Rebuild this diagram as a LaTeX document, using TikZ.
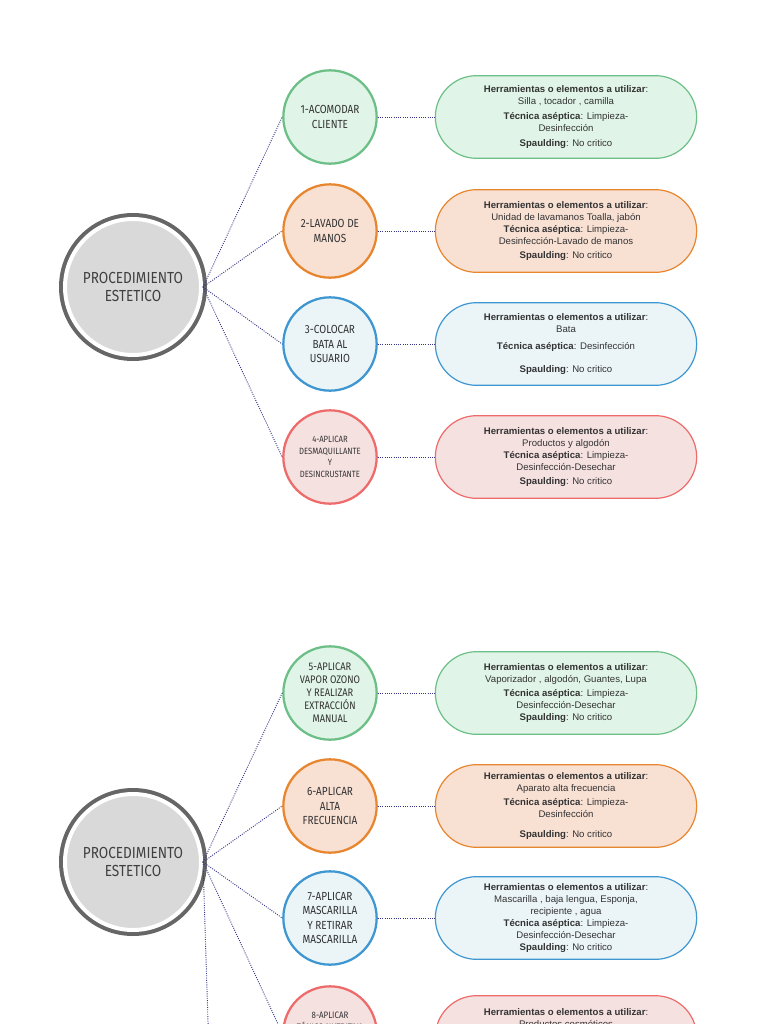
\documentclass[tikz,border=0pt]{standalone}
\usepackage{fontspec}
\setmainfont{Liberation Sans}
\newfontfamily\circf{Fira Sans}[FakeStretch=0.85]
\begin{document}
\begin{tikzpicture}[x=0.75pt,y=-0.75pt,
  big/.style={circle,inner sep=0,fill=gray!30,draw=white,line width=3pt,font=\circf\fontsize{12}{14}\selectfont,text=black!75,align=center},
  sm/.style={circle,minimum size=70pt,inner sep=0,line width=1.7pt,font=\circf\fontsize{8.8}{10.6}\selectfont,text=black!80,align=center},
  bx/.style={rounded corners=31pt,minimum width=196pt,minimum height=62pt,line width=0.9pt,font=\fontsize{7.2}{9}\selectfont,text=black!80,align=center,inner sep=1pt},
  g/.style={draw=gcol,fill=gfil},o/.style={draw=ocol,fill=ofil},b/.style={draw=bcol,fill=bfil},r/.style={draw=rcol,fill=rfil},
  con/.style={densely dotted,draw=black!45!blue!60!gray,line width=0.7pt}]
\definecolor{gcol}{HTML}{6DBF88}\definecolor{gfil}{HTML}{E0F5E7}
\definecolor{ocol}{HTML}{E8862F}\definecolor{ofil}{HTML}{F8E0D3}
\definecolor{bcol}{HTML}{3E97D1}\definecolor{bfil}{HTML}{EBF5F8}
\definecolor{rcol}{HTML}{EE6B6B}\definecolor{rfil}{HTML}{F6E1E1}
\useasboundingbox (0,0) rectangle (768,1024);
\clip (0,0) rectangle (768,1024);
\fill[white] (0,0) rectangle (768,1024);
\newcommand\hbx{\textbf{Herramientas o elementos a utilizar}:}
\newcommand\tax{\textbf{Técnica aséptica}:}
\newcommand\spx{\textbf{Spaulding}: No critico}
\foreach \cy/\n in {287/A,862/B}{
  \fill[black!60] (133,\cy) circle (55.5pt);
  \node[big,minimum size=102pt] (\n) at (133,\cy) {PROCEDIMIENTO\\ESTETICO};
}
% top group
\node[sm,g] (c1) at (330,117) {1-ACOMODAR\\CLIENTE};
\node[sm,o] (c2) at (330,231) {2-LAVADO DE\\MANOS};
\node[sm,b] (c3) at (330,344) {3-COLOCAR\\BATA AL\\USUARIO};
\node[sm,r,font=\circf\fontsize{6.8}{8.6}\selectfont] (c4) at (330,457) {4-APLICAR\\DESMAQUILLANTE\\Y\\DESINCRUSTANTE};
\node[bx,g] (b1) at (566,117) {\hbx\\Silla , tocador , camilla\\[2pt]\tax{} Limpieza-\\Desinfección\\[2pt]\spx};
\node[bx,o] (b2) at (566,231) {\hbx\\Unidad de lavamanos Toalla, jabón\\\tax{} Limpieza-\\Desinfección-Lavado de manos\\[2pt]\spx};
\node[bx,b] (b3) at (566,344) {\hbx\\Bata\\[4pt]\tax{} Desinfección\\[8pt]\spx};
\node[bx,r] (b4) at (566,457) {\hbx\\Productos y algodón\\\tax{} Limpieza-\\Desinfección-Desechar\\[1pt]\spx};
% bottom group
\node[sm,g,font=\circf\fontsize{8.2}{9.8}\selectfont] (c5) at (330,693) {5-APLICAR\\VAPOR OZONO\\Y REALIZAR\\EXTRACCIÓN\\MANUAL};
\node[sm,o] (c6) at (330,806) {6-APLICAR\\ALTA\\FRECUENCIA};
\node[sm,b] (c7) at (330,918) {7-APLICAR\\MASCARILLA\\Y RETIRAR\\MASCARILLA};
\node[sm,r,font=\circf\fontsize{7}{9}\selectfont] (c8) at (330,1033) {8-APLICAR\\TÓNICO NUTRITIVA\\Y\\PROTECTOR};
\node[bx,g] (b5) at (566,693) {\hbx\\Vaporizador , algodón, Guantes, Lupa\\[2pt]\tax{} Limpieza-\\Desinfección-Desechar\\\spx};
\node[bx,o] (b6) at (566,806) {\hbx\\Aparato alta frecuencia\\[2pt]\tax{} Limpieza-\\Desinfección\\[6pt]\spx};
\node[bx,b] (b7) at (566,918) {\hbx\\Mascarilla , baja lengua, Esponja,\\recipiente , agua\\\tax{} Limpieza-\\Desinfección-Desechar\\\spx};
\node[bx,r] (b8) at (566,1037) {\hbx\\Productos cosméticos\\\tax{} Limpieza-\\Desinfección-Desechar\\\spx};
\coordinate (c9) at (212,1150);
\foreach \i in {1,...,4}{\draw[con] (A.east) -- (c\i.west); \draw[con] (c\i.east) -- (b\i.west);}
\foreach \i in {5,...,8}{\draw[con] (B.east) -- (c\i.west); \draw[con] (c\i.east) -- (b\i.west);}
\draw[con] (B.east) -- (c9);
\end{tikzpicture}
\end{document}
